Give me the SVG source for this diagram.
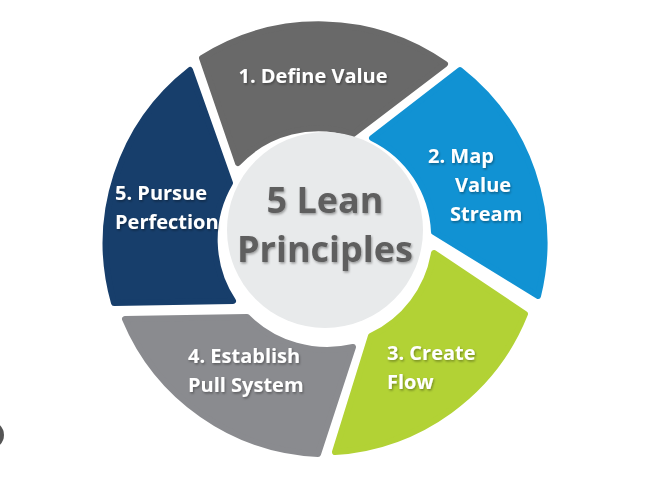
<svg xmlns="http://www.w3.org/2000/svg" width="671" height="484" viewBox="0 0 671 484">
<defs>
<filter id="sh" x="-10%" y="-10%" width="130%" height="130%"><feDropShadow dx="1" dy="1.5" stdDeviation="1" flood-color="#000" flood-opacity="0.35"/></filter>
</defs>
<style>
.seg{stroke-width:6;stroke-linejoin:round}
.lbl{font-family:"Open Sans","Liberation Sans",sans-serif;font-weight:bold;font-size:20px;fill:#fff;filter:url(#sh)}
.ctr{font-family:"Open Sans","Liberation Sans",sans-serif;font-weight:bold;font-size:36px;fill:#5e5e5e;text-anchor:middle;filter:url(#sh)}
</style>
<rect width="671" height="484" fill="#fff"/>
<circle cx="-10" cy="435" r="14" fill="#555"/>
<g id="seg1"><path class="seg" fill="#696969" stroke="#696969" d="M202,58 A220,220 0 0 1 445,64 L353,134 A110,110 0 0 0 238,163 Z"/>
<text class="lbl" x="313" y="83" text-anchor="middle">1. Define Value</text></g>
<g id="seg2"><path class="seg" fill="#1192d3" stroke="#1192d3" d="M460,70 A220,220 0 0 1 538,296 L434,232 A110,110 0 0 0 372,138 Z"/>
<text class="lbl" x="428" y="163">2. Map</text><text class="lbl" x="455" y="192">Value</text><text class="lbl" x="450" y="221">Stream</text></g>
<g id="seg3"><path class="seg" fill="#b2d235" stroke="#b2d235" d="M525,314 A220,220 0 0 1 335,452 L371,336 A112,112 0 0 0 434,253 Z"/>
<text class="lbl" x="387" y="360">3. Create</text><text class="lbl" x="387" y="389">Flow</text></g>
<g id="seg4"><path class="seg" fill="#8a8b8f" stroke="#8a8b8f" d="M353,347 L318,454 A220,220 0 0 1 125,319 L247,317 A114,114 0 0 0 353,347 Z"/>
<text class="lbl" x="188" y="363">4. Establish</text><text class="lbl" x="188" y="392">Pull System</text></g>
<g id="seg5"><path class="seg" fill="#173e6b" stroke="#173e6b" d="M190,70 L230,183 A112,112 0 0 0 233,301 L114,303 A220,220 0 0 1 190,70 Z"/>
<text class="lbl" x="115" y="200">5. Pursue</text><text class="lbl" x="115" y="229">Perfection</text></g>
<g id="center"><circle cx="325" cy="230" r="98" fill="#e8eaeb"/>
<text class="ctr" x="325" y="213">5 Lean</text><text class="ctr" x="325" y="262">Principles</text></g>
<g id="connectors"/>
</svg>
